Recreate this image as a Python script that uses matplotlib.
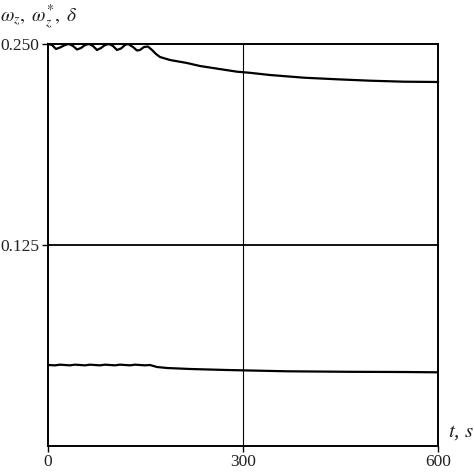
import matplotlib
matplotlib.use("Agg")
import matplotlib.pyplot as plt

# Upper curve (omega_z)
t_upper = [0, 6.2, 12.3, 18.5, 26.2, 32.3, 38.5, 44.6, 50.8, 56.9, 63.1, 69.2, 75.4,
           81.5, 87.7, 93.8, 100, 106.2, 112.3, 118.5, 123.1, 130.8, 136.9, 141.5,
           147.7, 153.8, 160, 166.2, 172.3, 187.7, 213.8, 233.8, 290.8, 309.2, 341.5,
           393.8, 444.6, 495.4, 547.7, 600]
v_upper = [0.2500, 0.24938, 0.24689, 0.24782, 0.24938, 0.2500, 0.24876, 0.24658, 0.24751,
           0.24938, 0.2500, 0.24876, 0.24627, 0.24751, 0.24938, 0.2500, 0.24876, 0.24627,
           0.24720, 0.24938, 0.2500, 0.24813, 0.24596, 0.24627, 0.24813, 0.24845, 0.24627,
           0.24378, 0.24191, 0.24005, 0.23818, 0.23632, 0.23277, 0.23215, 0.23072, 0.22904,
           0.22805, 0.22718, 0.22656, 0.22637]

# Lower curve
t_lower = [0, 10.8, 18.5, 33.8, 41.5, 56.9, 64.6, 80, 87.7, 103.1, 110.8, 126.2, 133.8,
           149.2, 156.9, 167.7, 183.1, 218.5, 275.4, 367.7, 464.6, 546.2, 600]
v_lower = [0.05037, 0.05016, 0.05058, 0.05016, 0.05058, 0.05016, 0.05058, 0.05016, 0.05058,
           0.05016, 0.05058, 0.05016, 0.05058, 0.05016, 0.05037, 0.04913, 0.04851, 0.04789,
           0.04726, 0.04646, 0.04614, 0.04602, 0.04583]

x_ticks = [0, 300, 600]
x_ticklabels = ["0", "300", "600"]
y_ticks = [0.125, 0.250]
y_ticklabels = ["0.125", "0.250"]

plt.rcParams['font.family'] = ['Liberation Serif', 'DejaVu Serif']
plt.rcParams['mathtext.fontset'] = 'stix'

fig = plt.figure(figsize=(4.74, 4.74), dpi=100)
ax = fig.add_axes([48/474, 28/474, 390/474, 402/474])

ax.set_xlim(0, 600)
ax.set_ylim(0, 0.25)

ax.axhline(0.125, color='black', lw=1.3, zorder=1)
ax.axvline(300, color='black', lw=0.8, zorder=1)

ax.plot(t_upper, v_upper, color='black', lw=1.6, zorder=3, clip_on=False)
ax.plot(t_lower, v_lower, color='black', lw=1.6, zorder=3)

for s in ax.spines.values():
    s.set_linewidth(1.4)
    s.set_color('black')

ax.set_xticks(x_ticks)
ax.set_xticklabels(x_ticklabels)
ax.set_yticks(y_ticks)
ax.set_yticklabels(y_ticklabels)
ax.tick_params(direction='out', length=4, width=1.0, labelsize=12.5, colors='black',
               labelcolor='#222222', pad=2)

fig.text(448/474, 1 - 433/474, "$t$, $s$", fontsize=15, ha='left', va='center',
         color='#222222', style='italic')
fig.text(0.0, 1 - 22/474, r"$\omega_z,\ \omega^{*}_{z},\ \delta$", fontsize=14,
         ha='left', va='baseline', color='#222222')

fig.savefig("out.png", dpi=100)
